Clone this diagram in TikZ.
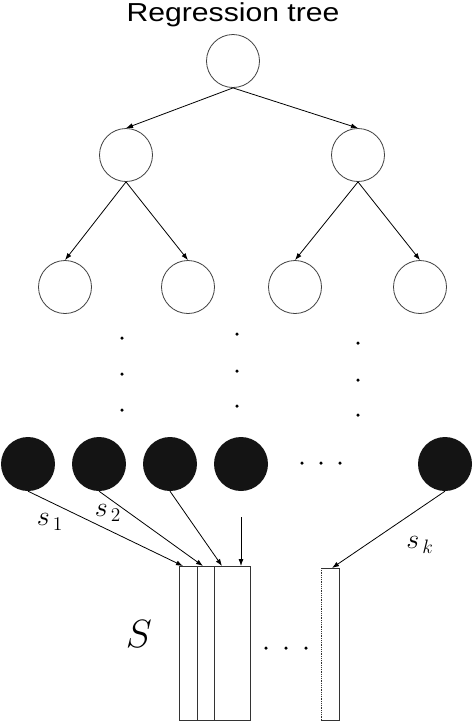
\documentclass[tikz,border=0pt]{standalone}
\usepackage{fontspec}
\newfontfamily\titlefont[FakeStretch=1.16]{Liberation Sans}
\usetikzlibrary{shapes, arrows, arrows.meta}

\begin{document}
\begin{tikzpicture}[auto,>={Latex[length=7pt,width=5pt]}, x=1pt, y=-1pt]

\tikzstyle{tree} = [draw=black!75, shape=circle, minimum size=53pt, inner sep=0pt, line width=0.8pt]
\tikzstyle{leaf} = [fill=black!92, shape=circle, minimum size=54pt, inner sep=0pt]
\tikzstyle{branch} = [fill,shape=circle,minimum size=3.5pt,inner sep=0pt]
\tikzstyle{weight} = [inner sep=0pt, font=\fontsize{20.74}{22}\selectfont, scale=1.35]

\useasboundingbox (0,0) rectangle (474,724);

\node at (233,15) (title) {\titlefont\fontsize{26}{28}\selectfont Regression tree};

% tree
\node [tree] at (233,61) (root) {};
\node [tree] at (126,155) (l) {};
\node [tree] at (358,155) (r) {};
\node [tree] at (65,287) (ll) {};
\node [tree] at (188,287) (lr) {};
\node [tree] at (295,287) (rl) {};
\node [tree] at (420,287) (rr) {};

\node [branch] at (122,338) (da1) {};
\node [branch] at (122,374) (da2) {};
\node [branch] at (122,410) (da3) {};
\node [branch] at (237,334) (db1) {};
\node [branch] at (237,371) (db2) {};
\node [branch] at (237,406) (db3) {};
\node [branch] at (358,343) (dc1) {};
\node [branch] at (358,380) (dc2) {};
\node [branch] at (358,415) (dc3) {};

% leaves
\node [leaf] at (28,464) (f1) {};
\node [leaf] at (99,464) (f2) {};
\node [leaf] at (170,464) (f3) {};
\node [leaf] at (241,464) (f4) {};
\node [leaf] at (445,464) (fk) {};
\node [branch] at (302,463) (e1) {};
\node [branch] at (321,463) (e2) {};
\node [branch] at (340,463) (e3) {};

\node [weight] at (50,522) (s1) {$s_{\,1}$};
\node [weight] at (108,513) (s2) {$s_{\,2}$};
\node [weight] at (420,545) (sk) {$s_{\,k}$};

% matrix S
\node [inner sep=0pt, font=\fontsize{20.74}{22}\selectfont, scale=1.9] at (139,634) (S) {$S$};
\coordinate (t1) at (183,566);
\coordinate (t2) at (203,566);
\coordinate (t3) at (222,566);
\coordinate (t4) at (241,566);
\coordinate (tk) at (332,568);
\node [branch] at (266,648) (m1) {};
\node [branch] at (286,648) (m2) {};
\node [branch] at (306,648) (m3) {};

\begin{scope}[line width=0.8pt, black!80]
     \draw (179,566) rectangle (250,720);
     \draw (197,566) -- (197,720);
     \draw (214,566) -- (214,720);
     \draw (321,568) -- (339,568) -- (339,720) -- (321,720);
     \draw [densely dotted] (321,568) -- (321,720);
\end{scope}

\begin{scope}[line width=0.8pt]
     \draw[->] (root.south) -- (l.north);
     \draw[->] (root.south) -- (r.north);
     \draw[->] (l.south) -- (ll.north);
     \draw[->] (l.south) -- (lr.north);
     \draw[->] (r.south) -- (rl.north);
     \draw[->] (r.south) -- (rr.north);
     \draw[->] (f1.south) -- (t1);
     \draw[->] (f2.south) -- (t2);
     \draw[->] (f3.south) -- (t3);
     \draw[->, shorten <=26pt] (f4.south) -- (t4);
     \draw[->] (fk.south) -- (tk);
\end{scope}
\end{tikzpicture}
\end{document}
